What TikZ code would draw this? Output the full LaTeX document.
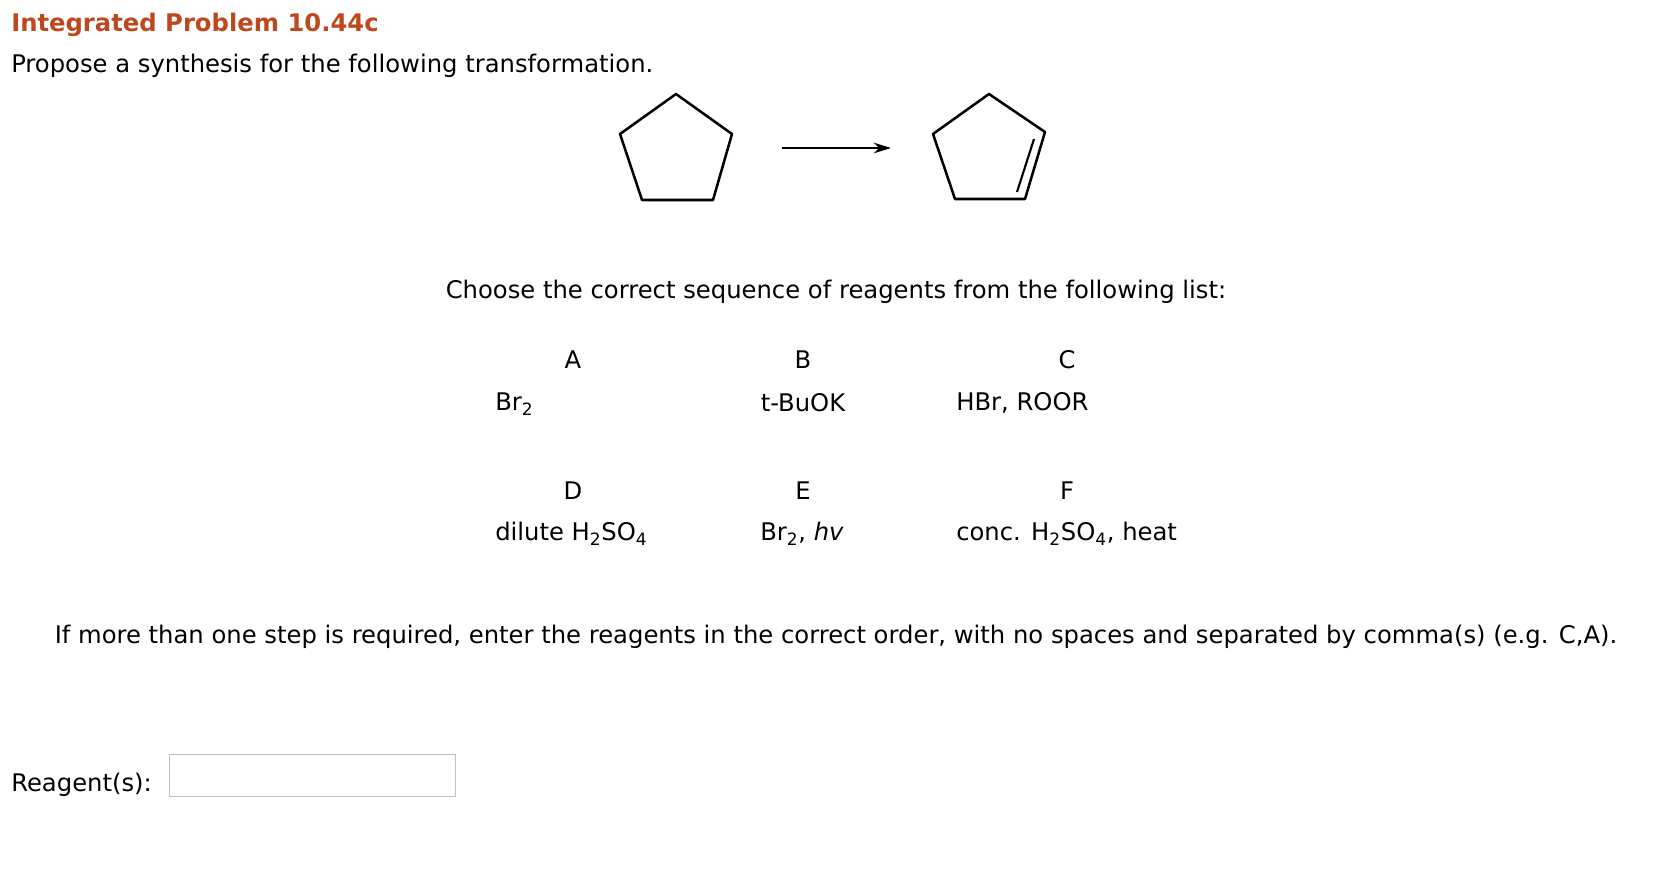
\documentclass[tikz,border=0pt]{standalone}
\usepackage{fontspec}
\usetikzlibrary{arrows.meta}
\setmainfont{DejaVu Sans}
\definecolor{ttl}{RGB}{190,72,30}
\begin{document}
\begin{tikzpicture}[x=0.75pt,y=-0.75pt,
  txt/.style={inner sep=0pt,font=\fontsize{18.2}{22}\selectfont},
  bond/.style={line width=1.9pt,line join=round}]
\useasboundingbox (0,0) rectangle (1668,876);
\node[txt,anchor=west,text=ttl,font=\fontsize{18.2}{22}\selectfont\bfseries] (title) at (11,25) {Integrated Problem 10.44c};
\node[txt,anchor=west] (prop) at (11,66) {Propose a synthesis for the following transformation.};
% cyclopentane
\draw[bond] (676,94) -- (732,134) -- (713,200) -- (642,200) -- (620,134) -- cycle;
\coordinate (a1) at (782,148); \coordinate (a2) at (891,148);
\draw[line width=1.3pt,-{Stealth[length=13pt,width=8pt]}] (a1) -- (a2);
% cyclopentene
\draw[bond] (989,94) -- (1045,132) -- (1025,199) -- (955,199) -- (933,134) -- cycle;
\draw[line width=1.6pt] (1034,139) -- (1017,192);
\node[txt] (choose) at (836,292) {Choose the correct sequence of reagents from the following list:};
\node[txt] (A) at (573,360) {A};
\node[txt] (B) at (803,360) {B};
\node[txt] (C) at (1067,360) {C};
\node[txt,anchor=west] (ra) at (495,404) {Br\textsubscript{2}};
\node[txt] (rb) at (803,403) {t-BuOK};
\node[txt,anchor=west] (rc) at (956,403) {HBr, ROOR};
\node[txt] (D) at (573,491) {D};
\node[txt] (E) at (803,491) {E};
\node[txt] (F) at (1067,491) {F};
\node[txt,anchor=west] (rd) at (495,534) {dilute H\textsubscript{2}SO\textsubscript{4}};
\node[txt,anchor=west] (re) at (760,534) {Br\textsubscript{2}, \textit{hv}};
\node[txt,anchor=west] (rf) at (956,534) {conc. H\textsubscript{2}SO\textsubscript{4}, heat};
\node[txt] (info) at (836,637) {If more than one step is required, enter the reagents in the correct order, with no spaces and separated by comma(s) (e.g. C,A).};
\node[txt,anchor=west] (reag) at (11,785) {Reagent(s):};
\node[draw=gray!50,line width=0.8pt,minimum width=286*0.75pt,minimum height=42*0.75pt,anchor=north west,inner sep=0pt] (box) at (169,754) {};
\end{tikzpicture}
\end{document}
